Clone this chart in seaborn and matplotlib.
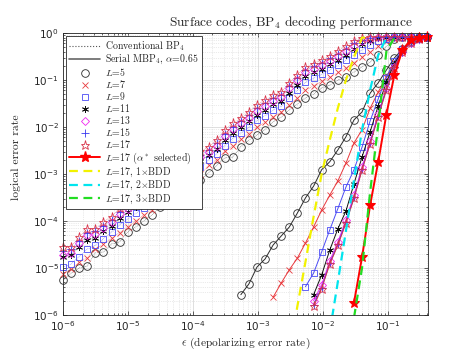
import matplotlib
matplotlib.use("Agg")
import matplotlib.pyplot as plt
import seaborn as sns
import numpy as np
from matplotlib.lines import Line2D

# depolarizing error rate grid, stored as log10 exponents
eps_exp = [-6.000, -5.876, -5.751, -5.627, -5.502, -5.378, -5.253, -5.129, -5.004, -4.880,
           -4.756, -4.631, -4.507, -4.382, -4.258, -4.133, -4.009, -3.884, -3.760, -3.636,
           -3.511, -3.387, -3.262, -3.138, -3.013, -2.889, -2.764, -2.640, -2.516, -2.391,
           -2.267, -2.142, -2.018, -1.893, -1.769, -1.644, -1.520, -1.396, -1.271, -1.147,
           -1.022, -0.898, -0.773, -0.649, -0.524, -0.398]

# conventional BP4, log10(logical error rate)
conv_L5 = [-5.26, -5.11, -5.00, -4.96, -4.68, -4.66, -4.49, -4.45, -4.23, -4.13,
           -4.00, -3.87, -3.70, -3.62, -3.50, -3.38, -3.25, -3.12, -2.98, -2.83,
           -2.66, -2.64, -2.42, -2.28, -2.17, -2.06, -1.89, -1.79, -1.64, -1.51,
           -1.38, -1.30, -1.17, -1.11, -1.00, -0.94, -0.83, -0.72, -0.62, -0.47,
           -0.28, -0.13, -0.09, -0.08, -0.08, -0.08]
conv_L7 = [-5.12, -5.03, -4.88, -4.78, -4.60, -4.50, -4.37, -4.25, -4.12, -4.00,
           -3.87, -3.76, -3.62, -3.50, -3.38, -3.26, -3.13, -3.00, -2.82, -2.70,
           -2.52, -2.40, -2.26, -2.14, -2.00, -1.90, -1.78, -1.68, -1.53, -1.38,
           -1.22, -1.12, -1.03, -0.94, -0.84, -0.74, -0.63, -0.51, -0.40, -0.28,
           -0.18, -0.12, -0.09, -0.08, -0.08, -0.08]
conv_L9 = [-4.98, -4.92, -4.76, -4.60, -4.52, -4.38, -4.24, -4.08, -3.96, -3.84,
           -3.72, -3.59, -3.46, -3.34, -3.22, -3.10, -2.98, -2.86, -2.70, -2.58,
           -2.40, -2.25, -2.13, -2.01, -1.86, -1.76, -1.64, -1.56, -1.39, -1.22,
           -1.05, -0.96, -0.88, -0.79, -0.69, -0.58, -0.47, -0.36, -0.26, -0.17,
           -0.12, -0.09, -0.08, -0.08, -0.08, -0.08]
conv_L11 = [-4.76, -4.72, -4.55, -4.40, -4.36, -4.22, -4.10, -3.93, -3.82, -3.70,
            -3.58, -3.45, -3.32, -3.20, -3.08, -2.96, -2.84, -2.72, -2.60, -2.47,
            -2.28, -2.12, -2.01, -1.88, -1.74, -1.63, -1.52, -1.44, -1.27, -1.10,
            -0.92, -0.84, -0.76, -0.67, -0.57, -0.46, -0.35, -0.24, -0.16, -0.11,
            -0.09, -0.08, -0.08, -0.08, -0.08, -0.08]
conv_L13 = [-4.72, -4.68, -4.48, -4.31, -4.28, -4.15, -4.03, -3.86, -3.74, -3.62,
            -3.50, -3.37, -3.24, -3.12, -3.00, -2.88, -2.76, -2.64, -2.53, -2.40,
            -2.19, -2.04, -1.92, -1.80, -1.65, -1.55, -1.44, -1.36, -1.18, -1.01,
            -0.84, -0.76, -0.68, -0.59, -0.49, -0.38, -0.27, -0.18, -0.12, -0.09,
            -0.08, -0.08, -0.08, -0.08, -0.08, -0.08]
conv_L15 = [-4.63, -4.60, -4.42, -4.26, -4.22, -4.10, -3.98, -3.80, -3.69, -3.57,
            -3.45, -3.32, -3.19, -3.07, -2.95, -2.83, -2.71, -2.59, -2.48, -2.34,
            -2.14, -1.99, -1.87, -1.75, -1.60, -1.50, -1.39, -1.31, -1.13, -0.96,
            -0.79, -0.71, -0.63, -0.54, -0.44, -0.33, -0.22, -0.14, -0.10, -0.08,
            -0.08, -0.08, -0.08, -0.08, -0.08, -0.08]
conv_L17 = [-4.55, -4.55, -4.34, -4.17, -4.17, -4.02, -3.91, -3.72, -3.62, -3.50,
            -3.38, -3.25, -3.12, -3.00, -2.88, -2.76, -2.64, -2.52, -2.42, -2.28,
            -2.07, -1.92, -1.81, -1.68, -1.53, -1.43, -1.32, -1.25, -1.06, -0.89,
            -0.73, -0.65, -0.57, -0.48, -0.38, -0.27, -0.17, -0.11, -0.09, -0.08,
            -0.08, -0.08, -0.08, -0.08, -0.08, -0.08]

# serial MBP4 (alpha = 0.65), each runs up to the last eps value
ser_L5 = [-5.57, -5.34, -4.98, -4.81, -4.51, -4.32, -4.13, -3.83, -3.51, -3.26,
          -2.91, -2.74, -2.49, -2.21, -1.85, -1.68, -1.28, -1.06, -0.79, -0.53,
          -0.34, -0.16, -0.11, -0.09]
ser_L7 = [-5.62, -5.32, -5.04, -4.79, -4.47, -4.13, -3.77, -3.45, -3.15, -2.77,
          -2.34, -2.06, -1.60, -1.26, -0.94, -0.62, -0.37, -0.19, -0.12, -0.09]
ser_L9 = [-5.40, -5.11, -4.66, -4.19, -3.74, -3.28, -2.91, -2.43, -1.87, -1.40,
          -0.95, -0.60, -0.35, -0.19, -0.12, -0.09]
ser_L11 = [-5.57, -5.15, -4.62, -4.17, -3.79, -3.21, -2.64, -2.10, -1.55, -1.05,
           -0.65, -0.38, -0.20, -0.12, -0.09]
ser_L13 = [-5.70, -5.36, -4.85, -4.45, -3.98, -3.45, -2.85, -2.30, -1.72, -1.18,
           -0.72, -0.40, -0.21, -0.12, -0.09]
ser_L15 = [-5.78, -5.42, -4.90, -4.50, -4.02, -3.50, -2.90, -2.34, -1.76, -1.20,
           -0.73, -0.40, -0.21, -0.12, -0.09]
ser_L17 = [-5.82, -5.44, -4.92, -4.52, -4.05, -3.52, -2.92, -2.36, -1.78, -1.22,
           -0.74, -0.40, -0.21, -0.12, -0.09]

# L=17 with alpha* selected
sel_L17 = [-5.74, -4.77, -3.66, -2.74, -1.74, -0.89, -0.36, -0.15, -0.11, -0.09]

# L=17 with 1x, 2x, 3x BDD (eps exponents, log10 error)
bdd1_exp = [-2.516, -2.391, -2.267, -2.142, -2.018, -1.893, -1.769, -1.644, -1.520, -1.396, -1.271]
bdd1 = [-6.80, -5.81, -4.87, -3.91, -3.00, -2.28, -1.60, -1.00, -0.51, -0.10, -0.09]
bdd2_exp = [-1.893, -1.769, -1.644, -1.520, -1.396, -1.271, -1.147, -1.022]
bdd2 = [-6.36, -5.30, -4.21, -3.13, -2.06, -1.21, -0.47, -0.10]
bdd3_exp = [-1.520, -1.396, -1.271, -1.147, -1.022, -0.898]
bdd3 = [-6.06, -5.00, -3.38, -1.96, -0.40, -0.10]

sizes = [5, 7, 9, 11, 13, 15, 17]
conv = [conv_L5, conv_L7, conv_L9, conv_L11, conv_L13, conv_L15, conv_L17]
serial = [ser_L5, ser_L7, ser_L9, ser_L11, ser_L13, ser_L15, ser_L17]
colors = ["#2a2a2a", "#e8383c", "#4b4bf5", "#111111", "#f028f0", "#3838f0", "#d8344a"]
markers = ["o", "x", "s", (6, 2, 0), "D", "+", "*"]
msizes = [5.5, 4.5, 5, 5, 4.2, 6, 6.5]

xtick_labels = [r"$10^{-6}$", r"$10^{-5}$", r"$10^{-4}$", r"$10^{-3}$", r"$10^{-2}$", r"$10^{-1}$"]
ytick_labels = [r"$10^{-6}$", r"$10^{-5}$", r"$10^{-4}$", r"$10^{-3}$", r"$10^{-2}$", r"$10^{-1}$", r"$10^{0}$"]

sns.set_style("ticks")
plt.rcParams["font.family"] = ["cmr10"]
plt.rcParams["mathtext.fontset"] = "cm"
plt.rcParams["axes.unicode_minus"] = False
plt.rcParams["axes.formatter.use_mathtext"] = True

eps = np.power(10.0, eps_exp)

fig, ax = plt.subplots(figsize=(4.74, 3.55), dpi=100)
fig.subplots_adjust(left=0.133, right=0.903, bottom=0.113, top=0.907)
ax.set_xscale("log")
ax.set_yscale("log")

common = dict(ax=ax, estimator=None, sort=False, legend=False, clip_on=False)

for L, y, c, m, ms in zip(sizes, conv, colors, markers, msizes):
    sns.lineplot(x=eps, y=np.power(10.0, y), color=c, marker=m, markersize=ms,
                 markerfacecolor="none", markeredgecolor=c, markeredgewidth=0.6,
                 linestyle=":", linewidth=0.4, **common)

for L, y, c, m, ms in zip(sizes, serial, colors, markers, msizes):
    sns.lineplot(x=eps[-len(y):], y=np.power(10.0, y), color=c, marker=m, markersize=ms,
                 markerfacecolor="none", markeredgecolor=c, markeredgewidth=0.6,
                 linestyle="-", linewidth=0.7, **common)

sns.lineplot(x=eps[-len(sel_L17):], y=np.power(10.0, sel_L17), color="#ff0000",
             marker="*", markersize=8, markerfacecolor="#ff0000", markeredgecolor="#ff0000",
             linewidth=1.4, **common)

bdd_sets = [(bdd1_exp, bdd1, "#f2f200"), (bdd2_exp, bdd2, "#00e5ee"), (bdd3_exp, bdd3, "#22dd22")]
for bx, by, c in bdd_sets:
    sns.lineplot(x=np.power(10.0, bx), y=np.power(10.0, by), color=c, linewidth=1.6,
                 dashes=False, linestyle=(0, (4, 2.5)), ax=ax, estimator=None,
                 sort=False, legend=False)

ax.set_xlim(1e-6, 10 ** -0.38)
ax.set_ylim(1e-6, 1)
ax.set_xticks([1e-6, 1e-5, 1e-4, 1e-3, 1e-2, 1e-1])
ax.set_xticklabels(xtick_labels)
ax.set_yticks([1e-6, 1e-5, 1e-4, 1e-3, 1e-2, 1e-1, 1])
ax.set_yticklabels(ytick_labels)
for t in ax.get_xticklabels() + ax.get_yticklabels():
    t.set_math_fontfamily("dejavusans")
    t.set_fontsize(7.5)
    t.set_color("#262626")

ax.grid(which="major", color="#d2d2d2", linewidth=0.5, linestyle="-")
ax.grid(which="minor", color="#d6d6d6", linewidth=0.5, linestyle=":")
ax.tick_params(which="both", direction="in", top=True, right=True, color="#262626", width=0.5)
ax.tick_params(which="major", length=3, pad=3)
ax.tick_params(which="minor", length=1.6)
for s in ax.spines.values():
    s.set_linewidth(0.6)
    s.set_color("#262626")
ax.set_axisbelow(True)

ax.set_title(r"Surface codes, BP$_4$ decoding performance", fontsize=9.6, pad=5, x=0.625)
ax.set_xlabel(r"$\epsilon$ (depolarizing error rate)", fontsize=8.2, labelpad=2)
ax.set_ylabel("logical error rate", fontsize=8.4)
ax.yaxis.set_label_coords(-0.115, 0.56)

handles = [Line2D([], [], color="#555555", linestyle=":", linewidth=0.8),
           Line2D([], [], color="#666666", linestyle="-", linewidth=1.2)]
labels = [r"Conventional BP$_4$", r"Serial MBP$_4$, $\alpha$=0.65"]
for L, c, m, ms in zip(sizes, colors, markers, msizes):
    handles.append(Line2D([], [], color=c, marker=m, markersize=ms, linestyle="none",
                          markerfacecolor="none", markeredgewidth=0.6))
    labels.append(r"$L$=%d" % L)
handles.append(Line2D([], [], color="#ff0000", marker="*", markersize=8, linewidth=1.4))
labels.append(r"$L$=17 ($\alpha^*$ selected)")
for i, (bx, by, c) in enumerate(bdd_sets):
    handles.append(Line2D([], [], color=c, linewidth=1.6, linestyle=(0, (4, 2.5))))
    labels.append(r"$L$=17, %d$\times$BDD" % (i + 1))

leg = ax.legend(handles, labels, loc="upper left", fontsize=7.1, frameon=True,
                fancybox=False, edgecolor="#262626", framealpha=1, borderaxespad=0.3,
                handlelength=3.1, handletextpad=0.5, labelspacing=0.0, borderpad=0.35)
leg.get_frame().set_linewidth(0.6)

fig.savefig("out.png", dpi=100)
